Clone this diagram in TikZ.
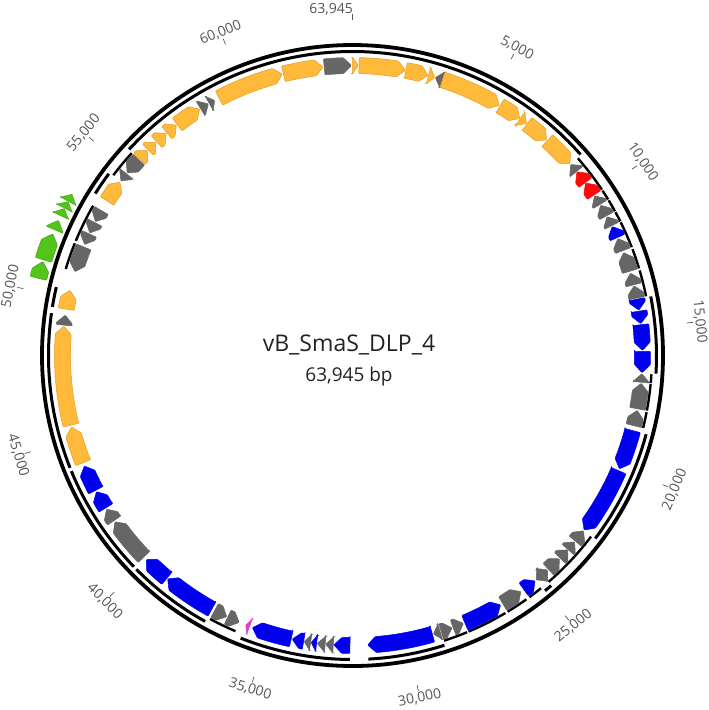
\documentclass[tikz,border=0pt]{standalone}
\usepackage{fontspec}
\setmainfont{Open Sans}
\usepackage{xcolor}
\definecolor{mapyellow}{HTML}{FFBA3C}
\definecolor{mapyellowline}{HTML}{E89A1C}
\definecolor{mapgray}{HTML}{666666}
\definecolor{mapblue}{HTML}{0000EE}
\definecolor{mapred}{HTML}{FF0A0A}
\definecolor{mapgreen}{HTML}{52C41A}
\definecolor{mappink}{HTML}{E040C8}
\definecolor{maptext}{HTML}{222222}
\definecolor{maptick}{HTML}{555555}

% gene band radii
\newcommand{\gin}{282}
\newcommand{\gout}{298}
\newcommand{\gmid}{290}

% \gene{start kb}{end kb}{1 forward / -1 reverse}{style}
\newcommand{\gene}[4]{%
	\pgfmathsetmacro{\gA}{#1/63.945*360-90}%
	\pgfmathsetmacro{\gB}{#2/63.945*360-90}%
	\pgfmathsetmacro{\gH}{min(1.6,\gB-\gA-0.01)}%
	\ifnum#3>0
		\pgfmathsetmacro{\gC}{\gB-\gH}%
		\filldraw[#4] (\gA:\gin) -- (\gA:\gout) arc[start angle=\gA, end angle=\gC, radius=\gout] -- (\gB:\gmid) -- (\gC:\gin) arc[start angle=\gC, end angle=\gA, radius=\gin] -- cycle;
	\else
		\pgfmathsetmacro{\gC}{\gA+\gH}%
		\filldraw[#4] (\gA:\gmid) -- (\gC:\gout) arc[start angle=\gC, end angle=\gB, radius=\gout] -- (\gB:\gin) arc[start angle=\gB, end angle=\gC, radius=\gin] -- cycle;
	\fi}

% strand lines
\newcommand{\fwline}[2]{%
	\pgfmathsetmacro{\oA}{#1/63.945*360-90}%
	\pgfmathsetmacro{\oB}{#2/63.945*360-90}%
	\draw[color=black, line width=3pt] (\oA:304) arc[start angle=\oA, end angle=\oB, radius=304];}
\newcommand{\rvline}[2]{%
	\pgfmathsetmacro{\oA}{#1/63.945*360-90}%
	\pgfmathsetmacro{\oB}{#2/63.945*360-90}%
	\draw[color=black, line width=2.4pt] (\oA:299.5) arc[start angle=\oA, end angle=\oB, radius=299.5];}

\tikzset{
	gene/.style={line width=0.5pt, rounded corners=0.8pt},
	yellowgene/.style={gene, fill=mapyellow, draw=mapyellowline},
	graygene/.style={gene, fill=mapgray, draw=mapgray},
	bluegene/.style={gene, fill=mapblue, draw=mapblue},
	redgene/.style={gene, fill=mapred, draw=mapred},
	greengene/.style={gene, fill=mapgreen, draw=mapgreen!85!black},
	pinkgene/.style={gene, fill=mappink, draw=mappink},
	ticklabel/.style={color=maptick, font=\fontsize{14}{16}\selectfont, inner sep=0pt},
	tickmark/.style={color=maptick, line width=0.7pt}
}

\begin{document}
\begin{tikzpicture}[x=1pt, y=-1pt]
	\useasboundingbox (0,0) rectangle (709,710);
	\node[color=maptext, font=\fontsize{23}{27}\selectfont] (name) at (349,345) {vB\_SmaS\_DLP\_4};
	\node[color=maptext, font=\fontsize{19}{23}\selectfont] (size) at (349,377) {63,945 bp};
	\begin{scope}[shift={(352.5,355.5)}]
		\draw[color=black, line width=3.8pt] (0,0) circle (310.5);
		% forward strand
		\fwline{55.543}{72.578}
		\fwline{13.997}{16.590}
		\fwline{18.651}{22.558}
		\fwline{24.725}{24.992}
		\fwline{28.846}{31.440}
		\fwline{32.061}{35.809}
		\fwline{37.124}{40.019}
		\fwline{40.143}{43.990}
		\fwline{44.104}{49.380}
		\fwline{49.593}{50.268}
		\fwline{53.678}{54.478}
		% reverse strand
		\rvline{8.668}{10.018}
		\rvline{10.054}{10.409}
		\rvline{10.444}{10.871}
		\rvline{10.906}{11.261}
		\rvline{11.297}{12.221}
		\rvline{12.292}{12.984}
		\rvline{13.055}{13.961}
		\rvline{16.626}{16.928}
		\rvline{16.963}{17.869}
		\rvline{17.922}{18.473}
		\rvline{22.594}{24.707}
		\rvline{25.045}{25.542}
		\rvline{25.667}{26.431}
		\rvline{26.519}{27.923}
		\rvline{27.976}{28.811}
		\rvline{36.058}{37.017}
		\rvline{50.943}{51.867}
		\rvline{51.955}{53.288}
		\rvline{54.531}{55.508}
		% genes
		\gene{0.000}{0.210}{1}{yellowgene}
		\gene{0.231}{1.865}{1}{yellowgene}
		\gene{1.883}{2.682}{1}{yellowgene}
		\gene{2.700}{2.931}{1}{yellowgene}
		\gene{2.949}{3.197}{-1}{graygene}
		\gene{3.215}{5.400}{1}{yellowgene}
		\gene{5.435}{6.252}{1}{yellowgene}
		\gene{6.270}{6.554}{1}{yellowgene}
		\gene{6.572}{7.460}{1}{yellowgene}
		\gene{7.496}{8.633}{1}{yellowgene}
		\gene{8.668}{8.988}{-1}{graygene}
		\gene{9.006}{9.485}{-1}{redgene}
		\gene{9.503}{10.018}{-1}{redgene}
		\gene{10.054}{10.409}{-1}{graygene}
		\gene{10.444}{10.871}{-1}{graygene}
		\gene{10.906}{11.261}{-1}{graygene}
		\gene{11.297}{11.723}{-1}{bluegene}
		\gene{11.759}{12.221}{-1}{graygene}
		\gene{12.292}{12.984}{-1}{graygene}
		\gene{13.055}{13.482}{-1}{graygene}
		\gene{13.517}{13.961}{-1}{graygene}
		\gene{13.997}{14.388}{1}{bluegene}
		\gene{14.423}{14.867}{1}{bluegene}
		\gene{14.903}{15.809}{1}{bluegene}
		\gene{15.844}{16.590}{1}{bluegene}
		\gene{16.626}{16.928}{-1}{graygene}
		\gene{16.963}{17.869}{-1}{graygene}
		\gene{17.922}{18.473}{-1}{graygene}
		\gene{18.651}{20.072}{1}{bluegene}
		\gene{20.143}{22.558}{1}{bluegene}
		\gene{22.594}{23.056}{-1}{graygene}
		\gene{23.091}{23.447}{-1}{graygene}
		\gene{23.464}{23.855}{-1}{graygene}
		\gene{23.891}{24.423}{-1}{graygene}
		\gene{24.459}{24.707}{-1}{graygene}
		\gene{24.725}{24.992}{1}{graygene}
		\gene{25.045}{25.542}{-1}{bluegene}
		\gene{25.667}{26.431}{-1}{graygene}
		\gene{26.519}{27.923}{-1}{bluegene}
		\gene{27.976}{28.367}{-1}{graygene}
		\gene{28.402}{28.811}{-1}{graygene}
		\gene{28.846}{29.095}{1}{graygene}
		\gene{29.131}{31.440}{1}{bluegene}
		\gene{32.061}{32.630}{1}{bluegene}
		\gene{32.647}{32.914}{1}{graygene}
		\gene{32.932}{33.216}{1}{graygene}
		\gene{33.234}{33.429}{1}{bluegene}
		\gene{33.447}{33.678}{1}{graygene}
		\gene{33.696}{34.104}{1}{bluegene}
		\gene{34.140}{35.560}{1}{bluegene}
		\gene{35.667}{35.809}{1}{pinkgene}
		\gene{36.058}{36.502}{-1}{graygene}
		\gene{36.538}{37.017}{-1}{graygene}
		\gene{37.124}{39.007}{1}{bluegene}
		\gene{39.042}{40.019}{1}{bluegene}
		\gene{40.143}{41.742}{1}{graygene}
		\gene{41.795}{42.275}{1}{graygene}
		\gene{42.328}{42.985}{1}{bluegene}
		\gene{43.039}{43.980}{1}{bluegene}
		\gene{44.104}{45.419}{1}{yellowgene}
		\gene{45.490}{48.989}{1}{yellowgene}
		\gene{49.025}{49.380}{1}{graygene}
		\gene{49.593}{50.268}{1}{yellowgene}
		\gene{50.943}{51.867}{-1}{graygene}
		\gene{51.955}{52.364}{-1}{graygene}
		\gene{52.399}{52.808}{-1}{graygene}
		\gene{52.844}{53.288}{-1}{graygene}
		\gene{53.678}{54.478}{1}{yellowgene}
		\gene{54.531}{54.850}{-1}{graygene}
		\gene{54.886}{55.508}{-1}{graygene}
		\gene{55.543}{55.952}{1}{yellowgene}
		\gene{55.988}{56.361}{1}{yellowgene}
		\gene{56.396}{56.840}{1}{yellowgene}
		\gene{56.875}{57.302}{1}{yellowgene}
		\gene{57.337}{58.297}{1}{yellowgene}
		\gene{58.332}{58.652}{1}{graygene}
		\gene{58.687}{58.901}{1}{graygene}
		\gene{59.078}{61.458}{1}{yellowgene}
		\gene{61.494}{62.914}{1}{yellowgene}
		\gene{62.950}{63.909}{1}{graygene}
		% outer track
		\renewcommand{\gin}{315}
		\renewcommand{\gout}{332}
		\renewcommand{\gmid}{323.5}
		\gene{50.410}{50.961}{1}{greengene}
		\gene{51.014}{51.884}{1}{greengene}
		\gene{52.026}{52.346}{1}{greengene}
		\gene{52.506}{52.755}{1}{greengene}
		\gene{52.773}{53.004}{1}{greengene}
		\gene{53.021}{53.270}{1}{greengene}
		% scale
		\draw[tickmark] (-90:336) -- (-90:342);
		\node[ticklabel, anchor=east] (lab0) at (-89.9:346) {63,945};
		\foreach \k in {5,10,...,60} {
			\pgfmathsetmacro{\lpos}{\k/63.945*360}
			\pgfmathsetmacro{\lang}{\lpos-90}
			\pgfmathsetmacro{\lrot}{(\lpos>90 && \lpos<270) ? 180-\lpos : -\lpos}
			\draw[tickmark] (\lang:336) -- (\lang:342);
			\node[ticklabel, rotate=\lrot] (lab\k) at (\lang:349) {\k,000};
		}
	\end{scope}
\end{tikzpicture}
\end{document}
